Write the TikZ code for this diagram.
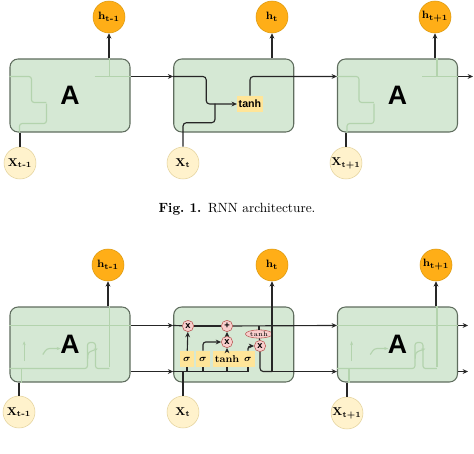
\documentclass[tikz,border=0pt]{standalone}
\usepackage{fontspec}
\usetikzlibrary{positioning,shapes.geometric,calc,arrows.meta}
\newfontfamily\boxfont{Liberation Sans}

\begin{document}
\begin{tikzpicture}[x=0.75pt,y=-0.75pt]
       \definecolor{green}{HTML}{D5E8D4}
       \definecolor{darkgreen}{HTML}{5F6D5E}
       \definecolor{ghostgreen}{HTML}{B3D3AD}
       \definecolor{orange}{HTML}{FFAE17}
       \definecolor{darkorange}{HTML}{DC9A10}
       \definecolor{yellow}{HTML}{FFF2CC}
       \definecolor{darkyellow}{HTML}{E3D29C}
       \definecolor{gateyellow}{HTML}{FFE599}
       \definecolor{red}{HTML}{F8CECC}
       \definecolor{darkred}{HTML}{B85450}

       \newcommand{\cellsep}[0]{32pt}
       \newcommand{\hname}[1]{\textbf{h}\textsubscript{\textbf{#1}}}
       \newcommand{\xname}[1]{\textbf{X}\textsubscript{\textbf{#1}}}
       \newcommand{\cellname}[0]{\boxfont\fontsize{20}{20}\selectfont\bfseries A}

       \tikzstyle{block}     = [rectangle, rounded corners=6pt, minimum width=90pt, fill=green, draw=darkgreen, thick]
       \tikzstyle{hstate}    = [circle, minimum size=24pt, inner sep=0pt, fill=orange, draw=darkorange, font=\fontsize{8}{9}\selectfont]
       \tikzstyle{xinput}    = [circle, minimum size=24pt, inner sep=0pt, fill=yellow, draw=darkyellow, font=\fontsize{8.5}{9}\selectfont]
       \tikzstyle{gate}      = [rectangle, fill=gateyellow, inner sep=1.2pt, minimum height=12pt, minimum width=10pt, font=\fontsize{7.5}{8}\selectfont\bfseries]
       \tikzstyle{pointop}   = [circle, fill=red, draw=darkred, minimum size=8.5pt, inner sep=0pt, font=\boxfont\fontsize{7}{7}\selectfont\bfseries]
       \tikzstyle{connector} = [line width=0.3mm, draw=black!85, -{Stealth[length=4pt,width=3.6pt]}]
       \tikzstyle{wire}      = [line width=0.3mm, draw=black!85, rounded corners=2.5pt]
       \tikzstyle{ghost}     = [line width=0.3mm, draw=ghostgreen, rounded corners=2pt]

       \useasboundingbox (0,0) rectangle (474,453);

       % RNN row
       \node [block, minimum height=54.75pt] (rnnA) at (70,95.5) {\cellname};
       \node [block, minimum height=54.75pt, right = \cellsep of rnnA] (rnnB) {};
       \node [block, minimum height=54.75pt, right = \cellsep of rnnB] (rnnC) {\cellname};

       \node [hstate] (hA) at (109,17)  {\hname{t-1}};
       \node [hstate] (hB) at (272,17)  {\hname{t}};
       \node [hstate] (hC) at (435,17)  {\hname{t+1}};
       \node [xinput] (xA) at (20,163)  {\xname{t-1}};
       \node [xinput] (xB) at (183,163) {\xname{t}};
       \node [xinput] (xC) at (346,163) {\xname{t+1}};

       \node [gate, font=\boxfont\fontsize{8}{8}\selectfont\bfseries] (tanhB) at (250,104) {tanh};

       \node (caption) at (237,209) {\textbf{Fig.\ 1.}\enspace RNN architecture.};

       % faint copies of the inner wiring
       \foreach \b in {rnnA,rnnC} {
         \draw [ghost] ([yshift=-13.5pt]\b.north west) -- ++(22,0) -- ++(0,26) -- ++(15,0);
         \draw [ghost] ([xshift=7.5pt]\b.south west) -- ++(0,-9) -- ++(27,0) -- ++(0,-20);
         \draw [ghost] ([yshift=-13.5pt,xshift=-27pt]\b.north east) -- ++(36,0);
         \draw [ghost] ([xshift=-15.75pt]\b.north east) -- ++(0,18);
       }

       \draw [connector] ([yshift=-13.5pt]rnnA.north east) -- ([yshift=-13.5pt]rnnB.north west);
       \draw [connector, rounded corners=2.5pt] ([yshift=-13.5pt]rnnB.north west) -- ++(33,0) |- (tanhB.west);
       \draw [wire] (xB.north) |- ++(32,-24) -- ++(0,-19);
       \draw [connector, rounded corners=2.5pt] (tanhB.north) |- ([yshift=-13.5pt]rnnC.north west);
       \draw [connector] ([yshift=-13.5pt]rnnC.north east) -- ++(15,0);

       \draw [connector] (hA |- rnnA.north) -- (hA);
       \draw [connector] (hB |- rnnB.north) -- (hB);
       \draw [connector] (hC |- rnnC.north) -- (hC);
       \draw [wire] (xA) -- (xA |- rnnA.south);
       \draw [wire] (xC) -- (xC |- rnnC.south);

       % LSTM row
       \node [block, minimum height=56.25pt] (lstmA) at (70,344.5) {\cellname};
       \node [block, minimum height=56.25pt, right = \cellsep of lstmA] (lstmB) {};
       \node [block, minimum height=56.25pt, right = \cellsep of lstmB] (lstmC) {\cellname};

       \node [hstate] (hA2) at (108,265) {\hname{t-1}};
       \node [hstate] (hB2) at (272,265) {\hname{t}};
       \node [hstate] (hC2) at (436,265) {\hname{t+1}};
       \node [xinput] (xA2) at (19,412)  {\xname{t-1}};
       \node [xinput] (xB2) at (183,412) {\xname{t}};
       \node [xinput] (xC2) at (347,413) {\xname{t+1}};

       \node [pointop] (mulF) at (188,326) {x};
       \node [pointop] (addC) at (227,326) {+};
       \node [pointop] (mulI) at (227,342) {x};
       \node [pointop] (mulO) at (260,346) {x};
       \node [ellipse, fill=red, draw=darkred, inner sep=0.4pt, font=\fontsize{5}{5}\selectfont] (tanhC) at (259,334) {tanh};

       \node [gate] (sigF)  at (187,359) {{\boldmath$\sigma$}};
       \node [gate] (sigI)  at (203,359) {{\boldmath$\sigma$}};
       \node [gate] (tanhI) at (227,359) {tanh};
       \node [gate] (sigO)  at (248,359) {{\boldmath$\sigma$}};

       \coordinate (cellin)  at ([yshift=-14.25pt]lstmB.north west);
       \coordinate (hidin)   at ([yshift=8.25pt]lstmB.south west);
       \coordinate (cellout) at ([yshift=-14.25pt]lstmC.north west);
       \coordinate (hidout)  at ([yshift=8.25pt]lstmC.south west);

       \foreach \b in {lstmA,lstmC} {
         \draw [ghost] ([yshift=-14.25pt]\b.north west) -- ([yshift=-14.25pt]\b.north east);
         \draw [ghost] ([xshift=-15.75pt]\b.north east) -- ++(0,61);
         \draw [ghost] ([yshift=10.5pt]\b.south west) -- ++(78,0) -- ++(0,-26) -- ++(8,0) -- ++(0,26) -- ++(14,0);
         \draw [ghost] ([xshift=9pt]\b.south west) -- ++(0,-14);
         \draw [ghost, -{Stealth[length=3pt]}] ([xshift=11pt,yshift=16pt]\b.south west) -- ++(0,-20);
         \draw [ghost, -{Stealth[length=3pt]}] ([xshift=25pt,yshift=21pt]\b.south west) -- ++(4,-6) -- ++(14,0);
         \draw [ghost, -{Stealth[length=3pt]}] ([xshift=-32pt,yshift=18pt]\b.south east) -- ++(0,-6) -- ++(10,-4);
       }

       \draw [connector] ([yshift=-14.25pt]lstmA.north east) -- (cellin);
       \draw [connector] ([yshift=8.25pt]lstmA.south east) -- (hidin);
       \draw [wire] (cellin) -- (mulF);
       \draw [wire] (mulF) -- (addC);
       \draw [connector] (addC) -- (cellout);
       \draw [wire] (tanhC |- addC) -- (tanhC);
       \draw [wire] (tanhC) -- (mulO);

       \draw [wire] (hidin) -- (sigO |- hidin);
       \foreach \g in {sigF,sigI,tanhI,sigO}
         \draw [wire] (\g.south) -- (\g |- hidin);
       \draw [wire] (xB2) -- (xB2 |- hidin);

       \draw [connector] (sigF) -- (mulF);
       \draw [connector] (tanhI) -- (mulI);
       \draw [connector] (mulI) -- (addC);
       \draw [connector, rounded corners=2pt] (sigI.north) |- (mulI.west);
       \draw [connector, rounded corners=2pt] (sigO.north) |- (mulO.west);

       \draw [wire] (mulO) |- (hB2 |- hidin);
       \draw [connector] (hB2 |- hidin) -- (hidout);
       \draw [connector] (hB2 |- hidin) -- (hB2);

       \draw [connector] ([yshift=-14.25pt]lstmC.north east) -- ++(10,0);
       \draw [connector] ([yshift=8.25pt]lstmC.south east) -- ++(10,0);

       \draw [connector] (hA2 |- lstmA.north) -- (hA2);
       \draw [connector] (hC2 |- lstmC.north) -- (hC2);
       \draw [wire] (xA2) -- (xA2 |- lstmA.south);
       \draw [wire] (xC2) -- (xC2 |- lstmC.south);
     \end{tikzpicture}
\end{document}
